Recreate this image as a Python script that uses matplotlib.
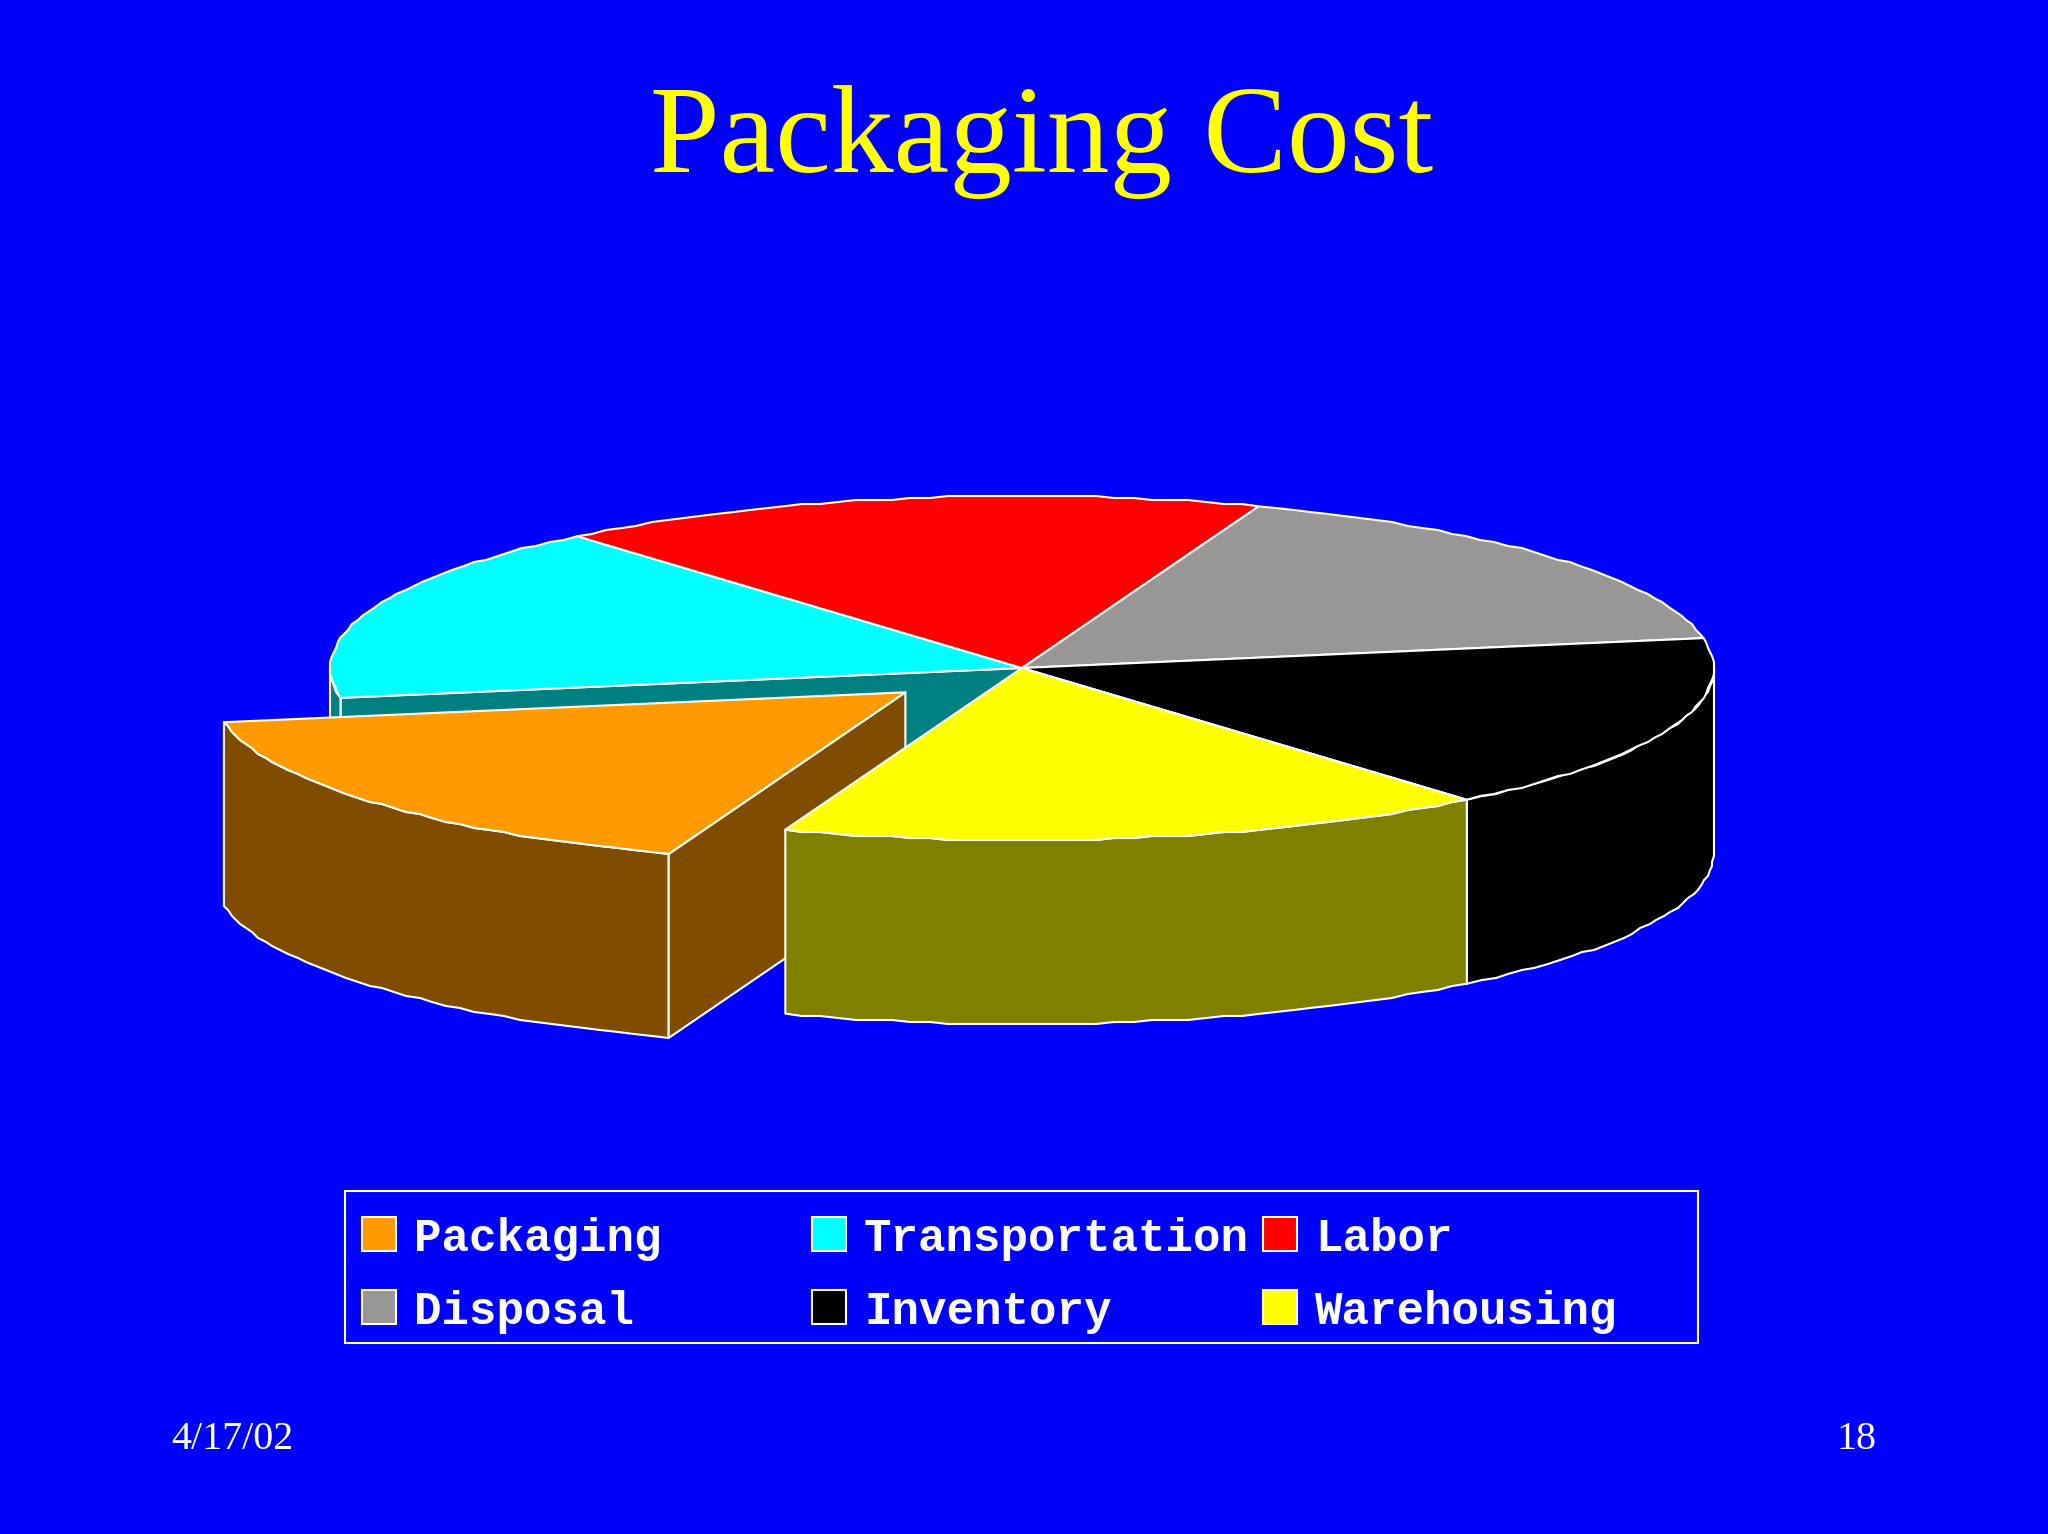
import numpy as np
import matplotlib
matplotlib.use('Agg')
import matplotlib.pyplot as plt
from matplotlib.patches import Polygon, Rectangle

title = 'Packaging Cost'
date_text = '4/17/02'
page_text = '18'

labels = ['Packaging', 'Transportation', 'Labor', 'Disposal', 'Inventory', 'Warehousing']
shares = [1, 1, 1, 1, 1, 1]
top_colors = ['#FF9900', '#00FFFF', '#FF0000', '#999696', '#000000', '#FFFF00']
side_colors = ['#804D00', '#008080', '#800000', '#4D4B4B', '#000000', '#808000']
exploded = [0.22, 0, 0, 0, 0, 0]

BLUE = '#0000FF'
EDGE = dict(edgecolor='white', linewidth=1.5, joinstyle='round')

# pie geometry in picture pixels
cx, cy = 1022, 668
rx, ry = 692, 172
depth = 184
start_angle = 250


def ellipse(a, b, ox, oy):
    # points along the rim, a to b in degrees, snapped to a coarse grid like the original
    n = max(int(abs(b - a) / 1.5), 2)
    t = np.radians(np.linspace(a, b, n))
    x = ox + rx * np.cos(t)
    y = oy - ry * np.sin(t)
    x[1:-1] = np.round(x[1:-1] / 2) * 2
    y[1:-1] = np.round(y[1:-1] / 2) * 2
    return np.column_stack([x, y])


def wall(ax, a, b, ox, oy, color):
    rim = ellipse(a, b, ox, oy)
    pts = np.vstack([rim, (rim + [0, depth])[::-1]])
    ax.add_patch(Polygon(pts, closed=True, facecolor=color, **EDGE))


def cut_face(ax, angle, ox, oy, color):
    t = np.radians(angle)
    px = ox + rx * np.cos(t)
    py = oy - ry * np.sin(t)
    pts = [(ox, oy), (px, py), (px, py + depth), (ox, oy + depth)]
    ax.add_patch(Polygon(pts, closed=True, facecolor=color, **EDGE))


fig = plt.figure(figsize=(20.48, 15.34), dpi=100, facecolor=BLUE)
ax = fig.add_axes([0, 0, 1, 1])
ax.set_xlim(0, 2048)
ax.set_ylim(1534, 0)
ax.axis('off')

# slice angles, clockwise from the start angle
sweep = np.array(shares) / sum(shares) * 360
ends = start_angle - np.cumsum(sweep)
starts = ends + sweep
centers = []
for s, e, x in zip(starts, ends, exploded):
    mid = np.radians((s + e) / 2)
    centers.append((cx + x * rx * np.cos(mid), cy - x * ry * np.sin(mid)))

# sides, back to front: Transportation, Packaging, Inventory, Warehousing
ox, oy = centers[1]
cut_face(ax, starts[1], ox, oy, side_colors[1])
wall(ax, 180, starts[1], ox, oy, side_colors[1])

ox, oy = centers[0]
wall(ax, ends[0], starts[0], ox, oy, side_colors[0])
cut_face(ax, starts[0], ox, oy, side_colors[0])

ox, oy = centers[4]
wall(ax, ends[4], 0, ox, oy, side_colors[4])

ox, oy = centers[5]
wall(ax, ends[5], starts[5], ox, oy, side_colors[5])

# top faces
for i in [1, 2, 3, 4, 5, 0]:
    ox, oy = centers[i]
    rim = ellipse(ends[i], starts[i], ox, oy)
    pts = np.vstack([[ox, oy], rim])
    ax.add_patch(Polygon(pts, closed=True, facecolor=top_colors[i], **EDGE))

# title and footer
ax.text(1042, 172, title, color='#FFFF00', fontsize=90.3, family='Liberation Serif', ha='center', va='baseline')
ax.text(171, 1449, date_text, color='white', fontsize=28.8, family='Liberation Serif', ha='left', va='baseline')
ax.text(1877, 1449, page_text, color='white', fontsize=28.8, family='Liberation Serif', ha='right', va='baseline')

# legend box
ax.add_patch(Rectangle((345, 1191), 1353, 152, facecolor='none', edgecolor='white', linewidth=1.5))
col_x = [362, 812, 1263]
row_y = [1217, 1290]
for k, name in enumerate(labels):
    x0 = col_x[k % 3]
    y0 = row_y[k // 3]
    ax.add_patch(Rectangle((x0, y0), 34, 34, facecolor=top_colors[k], edgecolor='white', linewidth=1.5))
    ax.text(x0 + 52, y0 + 34, name, color='white', fontsize=33, family='Liberation Mono',
            fontweight='bold', ha='left', va='baseline')

fig.savefig('out.png', dpi=100, facecolor=BLUE)
